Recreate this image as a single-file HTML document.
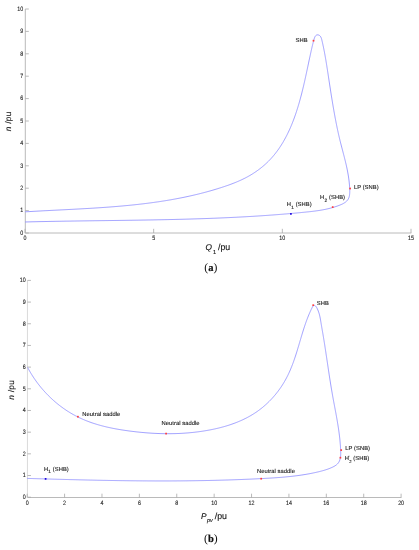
<!DOCTYPE html>
<html><head><meta charset="utf-8"><style>
html,body{margin:0;padding:0;background:#fff;}
body{width:419px;height:550px;overflow:hidden;}
svg{display:block;filter:blur(0.3px);}
text{text-rendering:geometricPrecision;}
text{font-family:"Liberation Sans",Arial,sans-serif;}
.tk{font-size:6.30px;fill:#1e1e1e;stroke:#1e1e1e;stroke-width:0.12px;}
.an{font-size:5.80px;fill:#1a1a1a;stroke:#1a1a1a;stroke-width:0.12px;letter-spacing:0.05px;}
.lb{font-size:8.3px;fill:#111;stroke:#111;stroke-width:0.12px;}
.cap{font-family:"Liberation Serif","Times New Roman",serif;font-size:11.7px;fill:#111;}
</style></head><body>
<svg width="419" height="550" viewBox="0 0 419 550">

<path d="M25.30,9.00 V233.50" fill="none" stroke="#bababa" stroke-width="1"/>
<path d="M25.80,233.00 H411.30" fill="none" stroke="#bababa" stroke-width="1"/>
<path d="M25.00,233.00 V228.80" stroke="#a8a8a8" stroke-width="0.8"/>
<text class="tk" transform="translate(25.00,239.80) scale(0.85,1)" text-anchor="middle">0</text>
<path d="M153.67,233.00 V228.80" stroke="#a8a8a8" stroke-width="0.8"/>
<text class="tk" transform="translate(153.67,239.80) scale(0.85,1)" text-anchor="middle">5</text>
<path d="M282.33,233.00 V228.80" stroke="#a8a8a8" stroke-width="0.8"/>
<text class="tk" transform="translate(282.33,239.80) scale(0.85,1)" text-anchor="middle">10</text>
<path d="M411.00,233.00 V228.80" stroke="#a8a8a8" stroke-width="0.8"/>
<text class="tk" transform="translate(411.00,239.80) scale(0.85,1)" text-anchor="middle">15</text>
<path d="M25.30,233.00 H28.80" stroke="#a8a8a8" stroke-width="0.8"/>
<text class="tk" transform="translate(23.30,234.85) scale(0.85,1)" text-anchor="end">0</text>
<path d="M25.30,210.60 H28.80" stroke="#a8a8a8" stroke-width="0.8"/>
<text class="tk" transform="translate(23.30,212.45) scale(0.85,1)" text-anchor="end">1</text>
<path d="M25.30,188.20 H28.80" stroke="#a8a8a8" stroke-width="0.8"/>
<text class="tk" transform="translate(23.30,190.05) scale(0.85,1)" text-anchor="end">2</text>
<path d="M25.30,165.80 H28.80" stroke="#a8a8a8" stroke-width="0.8"/>
<text class="tk" transform="translate(23.30,167.65) scale(0.85,1)" text-anchor="end">3</text>
<path d="M25.30,143.40 H28.80" stroke="#a8a8a8" stroke-width="0.8"/>
<text class="tk" transform="translate(23.30,145.25) scale(0.85,1)" text-anchor="end">4</text>
<path d="M25.30,121.00 H28.80" stroke="#a8a8a8" stroke-width="0.8"/>
<text class="tk" transform="translate(23.30,122.85) scale(0.85,1)" text-anchor="end">5</text>
<path d="M25.30,98.60 H28.80" stroke="#a8a8a8" stroke-width="0.8"/>
<text class="tk" transform="translate(23.30,100.45) scale(0.85,1)" text-anchor="end">6</text>
<path d="M25.30,76.20 H28.80" stroke="#a8a8a8" stroke-width="0.8"/>
<text class="tk" transform="translate(23.30,78.05) scale(0.85,1)" text-anchor="end">7</text>
<path d="M25.30,53.80 H28.80" stroke="#a8a8a8" stroke-width="0.8"/>
<text class="tk" transform="translate(23.30,55.65) scale(0.85,1)" text-anchor="end">8</text>
<path d="M25.30,31.40 H28.80" stroke="#a8a8a8" stroke-width="0.8"/>
<text class="tk" transform="translate(23.30,33.25) scale(0.85,1)" text-anchor="end">9</text>
<path d="M25.30,9.00 H28.80" stroke="#a8a8a8" stroke-width="0.8"/>
<text class="tk" transform="translate(23.30,10.85) scale(0.85,1)" text-anchor="end">10</text>
<path d="M25.05,211.84 L26.04,211.78 L27.03,211.72 L28.02,211.67 L29.01,211.61 L30.00,211.55 L30.99,211.49 L31.98,211.44 L32.97,211.38 L33.97,211.32 L34.96,211.27 L35.95,211.21 L36.94,211.16 L37.94,211.10 L38.93,211.05 L39.92,211.00 L40.92,210.94 L41.91,210.89 L42.91,210.84 L43.90,210.78 L44.90,210.73 L45.89,210.68 L46.89,210.63 L47.88,210.58 L48.88,210.53 L49.87,210.48 L50.87,210.42 L51.87,210.37 L52.86,210.32 L53.86,210.27 L54.86,210.22 L55.85,210.17 L56.85,210.12 L57.85,210.07 L58.85,210.02 L59.84,209.97 L60.84,209.92 L61.84,209.87 L62.84,209.82 L63.84,209.77 L64.84,209.72 L65.83,209.66 L66.83,209.61 L67.83,209.56 L68.83,209.51 L69.83,209.46 L70.83,209.41 L71.83,209.35 L72.83,209.30 L73.83,209.25 L74.83,209.20 L75.83,209.14 L76.83,209.09 L77.83,209.03 L78.83,208.98 L79.83,208.93 L80.83,208.87 L81.83,208.81 L82.83,208.76 L83.83,208.70 L84.83,208.64 L85.83,208.59 L86.83,208.53 L87.83,208.47 L88.83,208.41 L89.83,208.35 L90.83,208.29 L91.83,208.23 L92.83,208.17 L93.83,208.11 L94.83,208.04 L95.83,207.98 L96.83,207.91 L97.83,207.85 L98.83,207.78 L99.83,207.72 L100.83,207.65 L101.83,207.58 L102.83,207.51 L103.83,207.44 L104.83,207.37 L105.83,207.30 L106.82,207.23 L107.82,207.15 L108.82,207.08 L109.82,207.00 L110.82,206.93 L111.82,206.85 L112.82,206.77 L113.82,206.69 L114.82,206.61 L115.81,206.53 L116.81,206.45 L117.81,206.36 L118.81,206.28 L119.80,206.19 L120.80,206.11 L121.80,206.02 L122.80,205.93 L123.79,205.84 L124.79,205.74 L125.79,205.65 L126.78,205.56 L127.78,205.46 L128.78,205.36 L129.77,205.27 L130.77,205.17 L131.76,205.07 L132.76,204.96 L133.75,204.86 L134.75,204.75 L135.74,204.65 L136.73,204.54 L137.73,204.43 L138.72,204.32 L139.71,204.20 L140.71,204.09 L141.70,203.97 L142.69,203.86 L143.68,203.74 L144.68,203.62 L145.67,203.50 L146.66,203.37 L147.65,203.25 L148.64,203.12 L149.63,202.99 L150.62,202.86 L151.61,202.73 L152.60,202.59 L153.59,202.46 L154.58,202.32 L155.57,202.18 L156.55,202.04 L157.54,201.90 L158.53,201.75 L159.51,201.60 L160.50,201.46 L161.49,201.30 L162.47,201.15 L163.46,201.00 L164.44,200.84 L165.43,200.68 L166.41,200.52 L167.39,200.36 L168.38,200.19 L169.36,200.03 L170.34,199.86 L171.32,199.69 L172.30,199.51 L173.29,199.34 L174.27,199.16 L175.25,198.98 L176.23,198.80 L177.20,198.62 L178.18,198.43 L179.16,198.24 L180.14,198.05 L181.12,197.86 L182.09,197.66 L183.07,197.47 L184.04,197.27 L185.02,197.06 L185.99,196.86 L186.97,196.65 L187.94,196.44 L188.91,196.23 L189.89,196.01 L190.86,195.80 L191.83,195.58 L192.80,195.36 L193.77,195.13 L194.74,194.90 L195.71,194.67 L196.68,194.44 L197.65,194.21 L198.61,193.97 L199.58,193.73 L200.54,193.49 L201.51,193.24 L202.48,192.99 L203.44,192.74 L204.40,192.49 L205.37,192.23 L206.33,191.97 L207.29,191.71 L208.25,191.44 L209.21,191.18 L210.17,190.91 L211.13,190.63 L212.09,190.36 L213.05,190.08 L214.00,189.79 L214.96,189.51 L215.92,189.22 L216.87,188.93 L217.82,188.64 L218.78,188.34 L219.73,188.04 L220.68,187.74 L221.63,187.43 L222.59,187.12 L223.54,186.81 L224.48,186.49 L225.43,186.17 L226.38,185.85 L227.32,185.52 L228.27,185.19 L229.21,184.85 L230.15,184.51 L231.09,184.16 L232.02,183.81 L232.96,183.45 L233.89,183.09 L234.82,182.72 L235.74,182.34 L236.67,181.96 L237.59,181.57 L238.51,181.18 L239.42,180.77 L240.33,180.36 L241.24,179.95 L242.15,179.52 L243.05,179.09 L243.95,178.65 L244.84,178.20 L245.73,177.75 L246.62,177.28 L247.50,176.81 L248.38,176.32 L249.25,175.83 L250.12,175.33 L250.98,174.82 L251.84,174.30 L252.69,173.77 L253.54,173.23 L254.38,172.68 L255.21,172.12 L256.04,171.55 L256.87,170.98 L257.69,170.39 L258.50,169.80 L259.30,169.20 L260.10,168.59 L260.89,167.97 L261.67,167.34 L262.45,166.71 L263.22,166.06 L263.98,165.41 L264.73,164.75 L265.48,164.08 L266.21,163.40 L266.94,162.72 L267.66,162.03 L268.37,161.33 L269.07,160.62 L269.76,159.90 L270.45,159.18 L271.12,158.45 L271.78,157.71 L272.44,156.97 L273.09,156.22 L273.73,155.46 L274.36,154.70 L274.98,153.93 L275.59,153.15 L276.20,152.36 L276.80,151.57 L277.39,150.78 L277.97,149.97 L278.54,149.16 L279.11,148.35 L279.66,147.53 L280.21,146.70 L280.75,145.87 L281.29,145.04 L281.82,144.19 L282.34,143.35 L282.85,142.50 L283.35,141.64 L283.85,140.78 L284.34,139.91 L284.83,139.04 L285.31,138.16 L285.78,137.28 L286.24,136.40 L286.70,135.51 L287.15,134.62 L287.59,133.73 L288.03,132.83 L288.46,131.92 L288.89,131.02 L289.31,130.11 L289.72,129.19 L290.13,128.27 L290.53,127.36 L290.93,126.43 L291.32,125.51 L291.70,124.58 L292.08,123.65 L292.45,122.71 L292.82,121.78 L293.19,120.84 L293.54,119.90 L293.90,118.96 L294.24,118.01 L294.59,117.07 L294.92,116.12 L295.26,115.17 L295.59,114.22 L295.91,113.27 L296.23,112.31 L296.54,111.36 L296.85,110.40 L297.16,109.45 L297.46,108.49 L297.76,107.53 L298.05,106.57 L298.34,105.61 L298.63,104.65 L298.91,103.69 L299.19,102.73 L299.47,101.77 L299.74,100.80 L300.01,99.84 L300.27,98.87 L300.53,97.91 L300.79,96.94 L301.05,95.97 L301.30,95.01 L301.55,94.04 L301.80,93.07 L302.04,92.10 L302.28,91.13 L302.52,90.16 L302.76,89.19 L302.99,88.22 L303.23,87.25 L303.46,86.28 L303.69,85.31 L303.91,84.34 L304.14,83.37 L304.36,82.40 L304.58,81.43 L304.80,80.45 L305.02,79.48 L305.23,78.51 L305.45,77.54 L305.66,76.56 L305.87,75.59 L306.09,74.62 L306.30,73.65 L306.51,72.68 L306.71,71.70 L306.92,70.73 L307.13,69.76 L307.34,68.79 L307.54,67.82 L307.75,66.85 L307.95,65.88 L308.16,64.91 L308.37,63.94 L308.57,62.97 L308.78,62.00 L308.98,61.03 L309.19,60.06 L309.39,59.09 L309.60,58.13 L309.81,57.16 L310.02,56.19 L310.22,55.23 L310.43,54.26 L310.64,53.30 L310.86,52.33 L311.07,51.37 L311.28,50.40 L311.50,49.44 L311.72,48.46 L311.95,47.48 L312.18,46.49 L312.42,45.50 L312.67,44.49 L312.92,43.47 L313.19,42.43 L313.46,41.38 L313.75,40.32 L314.05,39.24 L314.38,38.20 L314.75,37.23 L315.20,36.37 L315.72,35.66 L316.35,35.15 L317.08,34.88 L317.92,34.86 L318.76,35.07 L319.54,35.49 L320.18,36.07 L320.70,36.81 L321.12,37.65 L321.46,38.59 L321.74,39.59 L321.99,40.61 L322.23,41.65 L322.46,42.67 L322.69,43.69 L322.92,44.71 L323.13,45.73 L323.35,46.74 L323.56,47.74 L323.76,48.75 L323.96,49.75 L324.16,50.74 L324.35,51.74 L324.54,52.73 L324.72,53.72 L324.90,54.70 L325.08,55.69 L325.25,56.67 L325.43,57.65 L325.60,58.63 L325.76,59.61 L325.93,60.58 L326.09,61.56 L326.25,62.53 L326.41,63.50 L326.56,64.48 L326.72,65.45 L326.87,66.42 L327.03,67.40 L327.18,68.37 L327.33,69.34 L327.48,70.32 L327.63,71.29 L327.78,72.27 L327.93,73.24 L328.08,74.22 L328.23,75.20 L328.37,76.18 L328.52,77.16 L328.67,78.14 L328.82,79.12 L328.97,80.11 L329.12,81.09 L329.27,82.07 L329.42,83.06 L329.57,84.05 L329.72,85.03 L329.87,86.02 L330.03,87.01 L330.18,88.00 L330.33,88.99 L330.48,89.98 L330.64,90.97 L330.79,91.96 L330.95,92.95 L331.10,93.94 L331.26,94.93 L331.42,95.92 L331.57,96.91 L331.73,97.91 L331.89,98.90 L332.05,99.89 L332.22,100.88 L332.38,101.88 L332.54,102.87 L332.71,103.86 L332.87,104.85 L333.04,105.85 L333.21,106.84 L333.38,107.83 L333.55,108.82 L333.72,109.82 L333.90,110.81 L334.07,111.80 L334.25,112.79 L334.43,113.78 L334.61,114.77 L334.79,115.76 L334.97,116.75 L335.15,117.74 L335.34,118.72 L335.53,119.71 L335.72,120.70 L335.91,121.68 L336.10,122.67 L336.30,123.65 L336.50,124.64 L336.70,125.62 L336.90,126.60 L337.10,127.58 L337.31,128.56 L337.52,129.54 L337.73,130.52 L337.94,131.50 L338.15,132.48 L338.37,133.45 L338.59,134.42 L338.81,135.40 L339.03,136.37 L339.26,137.34 L339.49,138.31 L339.72,139.28 L339.95,140.24 L340.19,141.21 L340.43,142.17 L340.67,143.13 L340.92,144.09 L341.16,145.05 L341.41,146.01 L341.66,146.97 L341.91,147.93 L342.16,148.89 L342.41,149.84 L342.66,150.80 L342.91,151.75 L343.16,152.71 L343.41,153.67 L343.66,154.62 L343.91,155.58 L344.16,156.54 L344.40,157.50 L344.64,158.45 L344.89,159.41 L345.12,160.37 L345.36,161.34 L345.59,162.30 L345.82,163.26 L346.05,164.23 L346.27,165.20 L346.49,166.17 L346.70,167.14 L346.91,168.11 L347.11,169.08 L347.31,170.06 L347.50,171.04 L347.69,172.02 L347.87,173.01 L348.04,174.00 L348.21,174.99 L348.37,175.98 L348.53,176.98 L348.67,177.98 L348.81,178.98 L348.94,179.99 L349.07,181.00 L349.18,182.02 L349.28,183.03 L349.38,184.06 L349.47,185.08 L349.54,186.11 L349.61,187.15 L349.67,188.19 L349.72,189.24 L349.75,190.28 L349.76,191.33 L349.75,192.36 L349.70,193.39 L349.61,194.39 L349.48,195.37 L349.29,196.31 L349.04,197.23 L348.72,198.10 L348.33,198.92 L347.86,199.69 L347.30,200.42 L346.68,201.09 L345.99,201.71 L345.24,202.30 L344.44,202.84 L343.59,203.35 L342.71,203.83 L341.79,204.27 L340.85,204.69 L339.89,205.09 L338.92,205.47 L337.94,205.83 L336.96,206.18 L335.99,206.51 L335.01,206.83 L334.03,207.14 L333.05,207.43 L332.07,207.72 L331.09,207.99 L330.11,208.24 L329.13,208.49 L328.14,208.73 L327.16,208.95 L326.18,209.17 L325.19,209.38 L324.21,209.57 L323.22,209.76 L322.24,209.94 L321.25,210.12 L320.26,210.28 L319.28,210.44 L318.29,210.59 L317.30,210.73 L316.31,210.87 L315.32,211.01 L314.33,211.13 L313.34,211.26 L312.36,211.38 L311.37,211.49 L310.38,211.61 L309.39,211.71 L308.40,211.82 L307.40,211.92 L306.41,212.03 L305.42,212.13 L304.43,212.23 L303.44,212.33 L302.45,212.42 L301.46,212.52 L300.47,212.62 L299.48,212.71 L298.48,212.81 L297.49,212.90 L296.50,212.99 L295.51,213.09 L294.52,213.18 L293.52,213.27 L292.53,213.36 L291.54,213.45 L290.55,213.53 L289.55,213.62 L288.56,213.71 L287.57,213.79 L286.57,213.88 L285.58,213.96 L284.59,214.04 L283.60,214.13 L282.60,214.21 L281.61,214.29 L280.62,214.37 L279.62,214.45 L278.63,214.53 L277.63,214.61 L276.64,214.68 L275.65,214.76 L274.65,214.84 L273.66,214.91 L272.66,214.99 L271.67,215.06 L270.67,215.13 L269.68,215.20 L268.69,215.28 L267.69,215.35 L266.70,215.42 L265.70,215.49 L264.71,215.55 L263.71,215.62 L262.72,215.69 L261.72,215.76 L260.72,215.82 L259.73,215.89 L258.73,215.95 L257.74,216.02 L256.74,216.08 L255.75,216.14 L254.75,216.21 L253.76,216.27 L252.76,216.33 L251.76,216.39 L250.77,216.45 L249.77,216.51 L248.77,216.56 L247.78,216.62 L246.78,216.68 L245.79,216.74 L244.79,216.79 L243.79,216.85 L242.80,216.90 L241.80,216.95 L240.80,217.01 L239.80,217.06 L238.81,217.11 L237.81,217.16 L236.81,217.22 L235.82,217.27 L234.82,217.32 L233.82,217.37 L232.82,217.42 L231.83,217.46 L230.83,217.51 L229.83,217.56 L228.83,217.61 L227.84,217.65 L226.84,217.70 L225.84,217.74 L224.84,217.79 L223.84,217.83 L222.85,217.87 L221.85,217.92 L220.85,217.96 L219.85,218.00 L218.85,218.04 L217.86,218.08 L216.86,218.13 L215.86,218.17 L214.86,218.21 L213.86,218.24 L212.86,218.28 L211.86,218.32 L210.87,218.36 L209.87,218.40 L208.87,218.43 L207.87,218.47 L206.87,218.51 L205.87,218.54 L204.87,218.58 L203.87,218.61 L202.88,218.65 L201.88,218.68 L200.88,218.71 L199.88,218.75 L198.88,218.78 L197.88,218.81 L196.88,218.84 L195.88,218.87 L194.88,218.90 L193.88,218.93 L192.88,218.96 L191.88,218.99 L190.88,219.02 L189.88,219.05 L188.88,219.08 L187.89,219.11 L186.89,219.14 L185.89,219.17 L184.89,219.19 L183.89,219.22 L182.89,219.25 L181.89,219.27 L180.89,219.30 L179.89,219.32 L178.89,219.35 L177.89,219.37 L176.89,219.40 L175.89,219.42 L174.89,219.45 L173.89,219.47 L172.89,219.49 L171.89,219.52 L170.89,219.54 L169.89,219.56 L168.89,219.59 L167.89,219.61 L166.89,219.63 L165.89,219.65 L164.89,219.67 L163.89,219.69 L162.89,219.71 L161.89,219.73 L160.89,219.75 L159.89,219.77 L158.89,219.79 L157.89,219.81 L156.89,219.83 L155.89,219.85 L154.89,219.87 L153.89,219.89 L152.88,219.91 L151.88,219.92 L150.88,219.94 L149.88,219.96 L148.88,219.98 L147.88,219.99 L146.88,220.01 L145.88,220.03 L144.88,220.05 L143.88,220.06 L142.88,220.08 L141.88,220.09 L140.88,220.11 L139.88,220.13 L138.88,220.14 L137.88,220.16 L136.88,220.17 L135.88,220.19 L134.88,220.20 L133.88,220.22 L132.88,220.23 L131.88,220.25 L130.88,220.26 L129.88,220.28 L128.88,220.29 L127.88,220.31 L126.88,220.32 L125.88,220.33 L124.88,220.35 L123.88,220.36 L122.88,220.38 L121.88,220.39 L120.88,220.40 L119.87,220.42 L118.87,220.43 L117.87,220.44 L116.87,220.46 L115.87,220.47 L114.87,220.48 L113.87,220.50 L112.87,220.51 L111.87,220.52 L110.87,220.54 L109.87,220.55 L108.87,220.56 L107.87,220.58 L106.87,220.59 L105.87,220.60 L104.87,220.61 L103.87,220.63 L102.87,220.64 L101.87,220.65 L100.88,220.67 L99.88,220.68 L98.88,220.69 L97.88,220.70 L96.88,220.72 L95.88,220.73 L94.88,220.74 L93.88,220.76 L92.88,220.77 L91.88,220.78 L90.88,220.80 L89.88,220.81 L88.88,220.82 L87.88,220.84 L86.88,220.85 L85.88,220.86 L84.88,220.88 L83.88,220.89 L82.88,220.90 L81.89,220.92 L80.89,220.93 L79.89,220.95 L78.89,220.96 L77.89,220.97 L76.89,220.99 L75.89,221.00 L74.89,221.02 L73.89,221.03 L72.90,221.05 L71.90,221.06 L70.90,221.08 L69.90,221.09 L68.90,221.11 L67.90,221.12 L66.90,221.14 L65.91,221.15 L64.91,221.17 L63.91,221.19 L62.91,221.20 L61.91,221.22 L60.91,221.24 L59.92,221.25 L58.92,221.27 L57.92,221.29 L56.92,221.30 L55.92,221.32 L54.93,221.34 L53.93,221.36 L52.93,221.38 L51.93,221.39 L50.94,221.41 L49.94,221.43 L48.94,221.45 L47.94,221.47 L46.95,221.49 L45.95,221.51 L44.95,221.53 L43.96,221.55 L42.96,221.57 L41.96,221.59 L40.97,221.61 L39.97,221.63 L38.97,221.65 L37.98,221.68 L36.98,221.70 L35.98,221.72 L34.99,221.74 L33.99,221.77 L32.99,221.79 L32.00,221.81 L31.00,221.84 L30.00,221.86 L29.01,221.88 L28.01,221.91 L27.02,221.93 L26.02,221.96 L25.03,221.99" fill="none" stroke="#9494ff" stroke-width="0.90"/>
<path d="M27.45,280.40 V498.00" fill="none" stroke="#dadada" stroke-width="1"/>
<path d="M27.95,497.50 H401.40" fill="none" stroke="#bababa" stroke-width="1"/>
<path d="M27.20,497.50 V493.70" stroke="#a8a8a8" stroke-width="0.8"/>
<text class="tk" transform="translate(27.20,504.80) scale(0.85,1)" text-anchor="middle">0</text>
<path d="M64.59,497.50 V493.70" stroke="#a8a8a8" stroke-width="0.8"/>
<text class="tk" transform="translate(64.59,504.80) scale(0.85,1)" text-anchor="middle">2</text>
<path d="M101.98,497.50 V493.70" stroke="#a8a8a8" stroke-width="0.8"/>
<text class="tk" transform="translate(101.98,504.80) scale(0.85,1)" text-anchor="middle">4</text>
<path d="M139.37,497.50 V493.70" stroke="#a8a8a8" stroke-width="0.8"/>
<text class="tk" transform="translate(139.37,504.80) scale(0.85,1)" text-anchor="middle">6</text>
<path d="M176.76,497.50 V493.70" stroke="#a8a8a8" stroke-width="0.8"/>
<text class="tk" transform="translate(176.76,504.80) scale(0.85,1)" text-anchor="middle">8</text>
<path d="M214.15,497.50 V493.70" stroke="#a8a8a8" stroke-width="0.8"/>
<text class="tk" transform="translate(214.15,504.80) scale(0.85,1)" text-anchor="middle">10</text>
<path d="M251.54,497.50 V493.70" stroke="#a8a8a8" stroke-width="0.8"/>
<text class="tk" transform="translate(251.54,504.80) scale(0.85,1)" text-anchor="middle">12</text>
<path d="M288.93,497.50 V493.70" stroke="#a8a8a8" stroke-width="0.8"/>
<text class="tk" transform="translate(288.93,504.80) scale(0.85,1)" text-anchor="middle">14</text>
<path d="M326.32,497.50 V493.70" stroke="#a8a8a8" stroke-width="0.8"/>
<text class="tk" transform="translate(326.32,504.80) scale(0.85,1)" text-anchor="middle">16</text>
<path d="M363.71,497.50 V493.70" stroke="#a8a8a8" stroke-width="0.8"/>
<text class="tk" transform="translate(363.71,504.80) scale(0.85,1)" text-anchor="middle">18</text>
<path d="M401.10,497.50 V493.70" stroke="#a8a8a8" stroke-width="0.8"/>
<text class="tk" transform="translate(401.10,504.80) scale(0.85,1)" text-anchor="middle">20</text>
<path d="M27.45,497.20 H30.95" stroke="#a8a8a8" stroke-width="0.8"/>
<text class="tk" transform="translate(25.80,499.05) scale(0.85,1)" text-anchor="end">0</text>
<path d="M27.45,475.52 H30.95" stroke="#a8a8a8" stroke-width="0.8"/>
<text class="tk" transform="translate(25.80,477.37) scale(0.85,1)" text-anchor="end">1</text>
<path d="M27.45,453.84 H30.95" stroke="#a8a8a8" stroke-width="0.8"/>
<text class="tk" transform="translate(25.80,455.69) scale(0.85,1)" text-anchor="end">2</text>
<path d="M27.45,432.16 H30.95" stroke="#a8a8a8" stroke-width="0.8"/>
<text class="tk" transform="translate(25.80,434.01) scale(0.85,1)" text-anchor="end">3</text>
<path d="M27.45,410.48 H30.95" stroke="#a8a8a8" stroke-width="0.8"/>
<text class="tk" transform="translate(25.80,412.33) scale(0.85,1)" text-anchor="end">4</text>
<path d="M27.45,388.80 H30.95" stroke="#a8a8a8" stroke-width="0.8"/>
<text class="tk" transform="translate(25.80,390.65) scale(0.85,1)" text-anchor="end">5</text>
<path d="M27.45,367.12 H30.95" stroke="#a8a8a8" stroke-width="0.8"/>
<text class="tk" transform="translate(25.80,368.97) scale(0.85,1)" text-anchor="end">6</text>
<path d="M27.45,345.44 H30.95" stroke="#a8a8a8" stroke-width="0.8"/>
<text class="tk" transform="translate(25.80,347.29) scale(0.85,1)" text-anchor="end">7</text>
<path d="M27.45,323.76 H30.95" stroke="#a8a8a8" stroke-width="0.8"/>
<text class="tk" transform="translate(25.80,325.61) scale(0.85,1)" text-anchor="end">8</text>
<path d="M27.45,302.08 H30.95" stroke="#a8a8a8" stroke-width="0.8"/>
<text class="tk" transform="translate(25.80,303.93) scale(0.85,1)" text-anchor="end">9</text>
<path d="M27.45,280.40 H30.95" stroke="#a8a8a8" stroke-width="0.8"/>
<text class="tk" transform="translate(25.80,282.25) scale(0.85,1)" text-anchor="end">10</text>
<path d="M27.63,367.48 L28.10,368.36 L28.58,369.23 L29.06,370.10 L29.56,370.97 L30.06,371.83 L30.56,372.69 L31.08,373.54 L31.60,374.39 L32.13,375.24 L32.67,376.08 L33.21,376.92 L33.76,377.75 L34.32,378.58 L34.89,379.41 L35.46,380.23 L36.04,381.04 L36.63,381.85 L37.22,382.66 L37.82,383.46 L38.43,384.25 L39.05,385.05 L39.67,385.83 L40.30,386.61 L40.93,387.39 L41.57,388.16 L42.22,388.92 L42.88,389.68 L43.54,390.44 L44.21,391.18 L44.88,391.93 L45.56,392.66 L46.25,393.40 L46.94,394.12 L47.64,394.84 L48.34,395.55 L49.05,396.26 L49.77,396.96 L50.49,397.66 L51.22,398.35 L51.95,399.03 L52.69,399.71 L53.44,400.38 L54.19,401.04 L54.94,401.70 L55.70,402.35 L56.47,402.99 L57.24,403.63 L58.02,404.25 L58.81,404.88 L59.59,405.49 L60.39,406.10 L61.19,406.70 L61.99,407.30 L62.80,407.88 L63.61,408.46 L64.43,409.03 L65.25,409.60 L66.08,410.16 L66.92,410.70 L67.75,411.25 L68.60,411.78 L69.44,412.31 L70.29,412.82 L71.15,413.33 L72.01,413.83 L72.88,414.33 L73.74,414.81 L74.62,415.29 L75.50,415.76 L76.38,416.22 L77.26,416.67 L78.15,417.12 L79.05,417.55 L79.94,417.98 L80.85,418.39 L81.75,418.80 L82.66,419.21 L83.57,419.60 L84.49,419.98 L85.41,420.36 L86.33,420.73 L87.26,421.09 L88.19,421.45 L89.12,421.80 L90.05,422.14 L90.99,422.47 L91.93,422.80 L92.88,423.12 L93.82,423.43 L94.77,423.73 L95.73,424.03 L96.68,424.32 L97.64,424.61 L98.60,424.89 L99.56,425.16 L100.53,425.43 L101.49,425.69 L102.46,425.94 L103.43,426.19 L104.40,426.44 L105.38,426.67 L106.35,426.91 L107.33,427.13 L108.31,427.35 L109.29,427.57 L110.28,427.78 L111.26,427.99 L112.25,428.19 L113.23,428.39 L114.22,428.58 L115.21,428.77 L116.20,428.95 L117.19,429.13 L118.18,429.30 L119.18,429.47 L120.17,429.64 L121.17,429.80 L122.16,429.96 L123.16,430.11 L124.15,430.26 L125.15,430.41 L126.14,430.55 L127.14,430.70 L128.14,430.83 L129.14,430.97 L130.13,431.10 L131.13,431.23 L132.13,431.35 L133.12,431.48 L134.12,431.59 L135.12,431.71 L136.11,431.83 L137.11,431.94 L138.11,432.04 L139.10,432.15 L140.10,432.25 L141.10,432.35 L142.09,432.44 L143.09,432.53 L144.09,432.62 L145.08,432.71 L146.08,432.79 L147.07,432.87 L148.07,432.94 L149.07,433.01 L150.06,433.08 L151.06,433.15 L152.05,433.21 L153.05,433.27 L154.05,433.32 L155.04,433.37 L156.04,433.42 L157.03,433.46 L158.03,433.51 L159.02,433.54 L160.02,433.58 L161.01,433.60 L162.01,433.63 L163.00,433.65 L164.00,433.67 L164.99,433.68 L165.99,433.69 L166.98,433.70 L167.98,433.70 L168.97,433.70 L169.97,433.70 L170.96,433.69 L171.96,433.68 L172.95,433.66 L173.94,433.64 L174.94,433.61 L175.93,433.58 L176.93,433.55 L177.92,433.51 L178.91,433.47 L179.91,433.43 L180.90,433.38 L181.90,433.32 L182.89,433.26 L183.88,433.20 L184.88,433.13 L185.87,433.06 L186.86,432.99 L187.86,432.91 L188.85,432.82 L189.84,432.73 L190.84,432.64 L191.83,432.54 L192.82,432.44 L193.81,432.33 L194.81,432.22 L195.80,432.10 L196.79,431.98 L197.78,431.86 L198.78,431.73 L199.77,431.59 L200.76,431.45 L201.75,431.31 L202.75,431.16 L203.74,431.00 L204.73,430.85 L205.72,430.68 L206.71,430.51 L207.71,430.34 L208.70,430.16 L209.69,429.97 L210.68,429.79 L211.67,429.59 L212.65,429.39 L213.64,429.18 L214.63,428.97 L215.61,428.75 L216.59,428.53 L217.58,428.30 L218.56,428.07 L219.54,427.82 L220.51,427.58 L221.49,427.32 L222.46,427.06 L223.43,426.80 L224.40,426.52 L225.37,426.24 L226.33,425.96 L227.29,425.66 L228.25,425.36 L229.21,425.06 L230.16,424.74 L231.12,424.42 L232.06,424.09 L233.01,423.76 L233.95,423.42 L234.89,423.07 L235.82,422.71 L236.75,422.34 L237.68,421.97 L238.60,421.59 L239.52,421.20 L240.44,420.81 L241.35,420.40 L242.26,419.99 L243.16,419.57 L244.06,419.14 L244.95,418.70 L245.84,418.26 L246.73,417.80 L247.61,417.34 L248.48,416.87 L249.35,416.39 L250.22,415.90 L251.08,415.40 L251.93,414.89 L252.78,414.38 L253.62,413.85 L254.46,413.32 L255.29,412.77 L256.12,412.22 L256.94,411.66 L257.75,411.09 L258.56,410.50 L259.36,409.91 L260.15,409.31 L260.94,408.70 L261.72,408.08 L262.50,407.46 L263.27,406.82 L264.03,406.17 L264.78,405.52 L265.53,404.86 L266.27,404.19 L267.01,403.51 L267.73,402.82 L268.45,402.13 L269.17,401.43 L269.87,400.72 L270.57,400.00 L271.26,399.27 L271.94,398.54 L272.62,397.80 L273.29,397.05 L273.95,396.30 L274.60,395.53 L275.25,394.77 L275.88,393.99 L276.51,393.21 L277.13,392.42 L277.75,391.63 L278.35,390.83 L278.95,390.02 L279.53,389.21 L280.11,388.39 L280.69,387.56 L281.25,386.73 L281.80,385.90 L282.35,385.06 L282.88,384.21 L283.41,383.36 L283.93,382.50 L284.44,381.64 L284.94,380.77 L285.43,379.90 L285.92,379.03 L286.39,378.15 L286.85,377.26 L287.31,376.37 L287.76,375.48 L288.19,374.58 L288.62,373.68 L289.04,372.78 L289.45,371.87 L289.86,370.96 L290.26,370.04 L290.65,369.12 L291.03,368.20 L291.41,367.27 L291.78,366.34 L292.14,365.41 L292.50,364.48 L292.85,363.54 L293.20,362.60 L293.54,361.66 L293.87,360.72 L294.20,359.77 L294.53,358.83 L294.85,357.88 L295.17,356.93 L295.49,355.97 L295.80,355.02 L296.10,354.06 L296.41,353.10 L296.71,352.15 L297.01,351.19 L297.30,350.23 L297.60,349.26 L297.89,348.30 L298.18,347.34 L298.47,346.38 L298.75,345.41 L299.04,344.45 L299.32,343.48 L299.61,342.52 L299.89,341.56 L300.18,340.59 L300.46,339.63 L300.75,338.67 L301.03,337.70 L301.32,336.74 L301.61,335.78 L301.90,334.82 L302.19,333.86 L302.48,332.90 L302.78,331.95 L303.07,330.99 L303.37,330.04 L303.68,329.09 L303.98,328.14 L304.29,327.19 L304.60,326.24 L304.92,325.30 L305.24,324.36 L305.57,323.42 L305.89,322.48 L306.23,321.54 L306.57,320.61 L306.91,319.68 L307.26,318.76 L307.62,317.83 L307.98,316.91 L308.35,316.00 L308.72,315.09 L309.10,314.18 L309.49,313.27 L309.88,312.37 L310.29,311.47 L310.70,310.57 L311.11,309.68 L311.54,308.80 L311.97,307.92 L312.42,307.04 L312.88,306.23 L313.40,305.62 L313.99,305.31 L314.69,305.42 L315.45,305.96 L316.18,306.79 L316.82,307.79 L317.37,308.88 L317.86,309.99 L318.28,311.08 L318.66,312.14 L319.00,313.17 L319.30,314.17 L319.56,315.15 L319.79,316.12 L320.00,317.07 L320.18,318.02 L320.36,318.96 L320.52,319.89 L320.68,320.83 L320.83,321.77 L320.99,322.71 L321.15,323.67 L321.31,324.63 L321.48,325.59 L321.64,326.56 L321.81,327.53 L321.98,328.51 L322.15,329.49 L322.31,330.47 L322.48,331.46 L322.65,332.45 L322.82,333.44 L322.99,334.44 L323.16,335.43 L323.32,336.42 L323.49,337.42 L323.65,338.41 L323.81,339.41 L323.98,340.40 L324.14,341.40 L324.29,342.39 L324.45,343.39 L324.61,344.38 L324.77,345.38 L324.92,346.37 L325.07,347.36 L325.23,348.36 L325.38,349.35 L325.53,350.34 L325.68,351.34 L325.83,352.33 L325.98,353.32 L326.13,354.32 L326.28,355.31 L326.43,356.30 L326.58,357.29 L326.73,358.29 L326.87,359.28 L327.02,360.27 L327.17,361.26 L327.32,362.25 L327.46,363.24 L327.61,364.23 L327.76,365.22 L327.90,366.21 L328.05,367.20 L328.20,368.19 L328.35,369.18 L328.49,370.17 L328.64,371.16 L328.79,372.15 L328.94,373.14 L329.09,374.13 L329.24,375.11 L329.39,376.10 L329.54,377.09 L329.70,378.08 L329.85,379.06 L330.01,380.05 L330.16,381.04 L330.32,382.02 L330.47,383.01 L330.63,383.99 L330.79,384.98 L330.95,385.96 L331.11,386.94 L331.28,387.93 L331.44,388.91 L331.61,389.89 L331.77,390.88 L331.94,391.86 L332.11,392.84 L332.28,393.82 L332.46,394.80 L332.63,395.78 L332.81,396.76 L332.98,397.74 L333.16,398.72 L333.34,399.70 L333.53,400.68 L333.71,401.66 L333.89,402.64 L334.07,403.62 L334.26,404.59 L334.44,405.57 L334.63,406.55 L334.81,407.53 L334.99,408.51 L335.18,409.49 L335.36,410.47 L335.54,411.45 L335.73,412.43 L335.91,413.41 L336.09,414.39 L336.27,415.37 L336.44,416.35 L336.62,417.33 L336.79,418.31 L336.97,419.30 L337.14,420.28 L337.31,421.26 L337.47,422.25 L337.64,423.24 L337.80,424.22 L337.96,425.21 L338.11,426.20 L338.27,427.19 L338.42,428.18 L338.57,429.17 L338.71,430.16 L338.85,431.16 L338.99,432.15 L339.12,433.15 L339.25,434.14 L339.37,435.14 L339.49,436.14 L339.61,437.14 L339.72,438.14 L339.83,439.15 L339.93,440.15 L340.02,441.16 L340.12,442.17 L340.20,443.18 L340.28,444.19 L340.36,445.20 L340.43,446.22 L340.49,447.24 L340.55,448.26 L340.60,449.28 L340.65,450.30 L340.69,451.32 L340.71,452.34 L340.72,453.36 L340.70,454.37 L340.66,455.37 L340.58,456.35 L340.46,457.31 L340.29,458.26 L340.07,459.18 L339.80,460.07 L339.46,460.93 L339.06,461.75 L338.58,462.54 L338.03,463.28 L337.38,463.99 L336.66,464.64 L335.87,465.26 L335.01,465.83 L334.10,466.37 L333.16,466.87 L332.18,467.34 L331.19,467.78 L330.20,468.20 L329.20,468.59 L328.22,468.96 L327.24,469.31 L326.26,469.64 L325.29,469.95 L324.33,470.25 L323.36,470.53 L322.40,470.80 L321.44,471.06 L320.48,471.31 L319.52,471.55 L318.56,471.79 L317.60,472.01 L316.63,472.24 L315.67,472.45 L314.70,472.67 L313.73,472.87 L312.77,473.07 L311.80,473.27 L310.82,473.46 L309.85,473.65 L308.88,473.83 L307.90,474.01 L306.93,474.18 L305.95,474.35 L304.97,474.51 L303.99,474.67 L303.01,474.83 L302.03,474.98 L301.05,475.12 L300.07,475.27 L299.08,475.41 L298.10,475.54 L297.11,475.67 L296.12,475.80 L295.14,475.92 L294.15,476.04 L293.16,476.16 L292.17,476.28 L291.18,476.39 L290.19,476.49 L289.19,476.60 L288.20,476.70 L287.21,476.80 L286.21,476.89 L285.22,476.99 L284.22,477.08 L283.23,477.16 L282.23,477.25 L281.23,477.33 L280.24,477.41 L279.24,477.49 L278.24,477.56 L277.24,477.64 L276.24,477.71 L275.24,477.78 L274.25,477.85 L273.25,477.91 L272.25,477.98 L271.24,478.04 L270.24,478.10 L269.24,478.16 L268.24,478.22 L267.24,478.28 L266.24,478.34 L265.24,478.39 L264.24,478.44 L263.24,478.50 L262.24,478.55 L261.23,478.60 L260.23,478.65 L259.23,478.70 L258.23,478.75 L257.23,478.80 L256.23,478.85 L255.23,478.90 L254.23,478.95 L253.22,478.99 L252.22,479.04 L251.22,479.09 L250.22,479.13 L249.22,479.18 L248.22,479.22 L247.22,479.26 L246.22,479.30 L245.22,479.35 L244.22,479.39 L243.22,479.43 L242.21,479.47 L241.21,479.51 L240.21,479.55 L239.21,479.58 L238.21,479.62 L237.21,479.66 L236.21,479.70 L235.21,479.73 L234.21,479.77 L233.21,479.80 L232.21,479.84 L231.21,479.87 L230.21,479.90 L229.21,479.93 L228.21,479.97 L227.21,480.00 L226.21,480.03 L225.21,480.06 L224.21,480.09 L223.21,480.12 L222.21,480.15 L221.21,480.17 L220.21,480.20 L219.21,480.23 L218.21,480.25 L217.21,480.28 L216.21,480.31 L215.21,480.33 L214.21,480.35 L213.21,480.38 L212.21,480.40 L211.21,480.42 L210.21,480.45 L209.21,480.47 L208.21,480.49 L207.21,480.51 L206.21,480.53 L205.21,480.55 L204.21,480.57 L203.21,480.59 L202.21,480.60 L201.21,480.62 L200.21,480.64 L199.21,480.65 L198.21,480.67 L197.21,480.69 L196.21,480.70 L195.21,480.72 L194.21,480.73 L193.21,480.74 L192.21,480.76 L191.21,480.77 L190.21,480.78 L189.21,480.79 L188.21,480.81 L187.21,480.82 L186.21,480.83 L185.21,480.84 L184.21,480.85 L183.22,480.85 L182.22,480.86 L181.22,480.87 L180.22,480.88 L179.22,480.89 L178.22,480.89 L177.22,480.90 L176.22,480.91 L175.22,480.91 L174.22,480.92 L173.22,480.92 L172.22,480.93 L171.22,480.93 L170.22,480.93 L169.22,480.94 L168.23,480.94 L167.23,480.94 L166.23,480.94 L165.23,480.94 L164.23,480.94 L163.23,480.94 L162.23,480.95 L161.23,480.94 L160.23,480.94 L159.23,480.94 L158.23,480.94 L157.23,480.94 L156.23,480.94 L155.24,480.94 L154.24,480.93 L153.24,480.93 L152.24,480.93 L151.24,480.92 L150.24,480.92 L149.24,480.91 L148.24,480.91 L147.24,480.90 L146.24,480.90 L145.24,480.89 L144.24,480.88 L143.25,480.88 L142.25,480.87 L141.25,480.86 L140.25,480.85 L139.25,480.85 L138.25,480.84 L137.25,480.83 L136.25,480.82 L135.25,480.81 L134.25,480.80 L133.25,480.79 L132.26,480.78 L131.26,480.77 L130.26,480.76 L129.26,480.74 L128.26,480.73 L127.26,480.72 L126.26,480.71 L125.26,480.70 L124.26,480.68 L123.26,480.67 L122.26,480.66 L121.26,480.64 L120.27,480.63 L119.27,480.61 L118.27,480.60 L117.27,480.58 L116.27,480.57 L115.27,480.55 L114.27,480.54 L113.27,480.52 L112.27,480.50 L111.27,480.49 L110.27,480.47 L109.27,480.45 L108.27,480.44 L107.28,480.42 L106.28,480.40 L105.28,480.38 L104.28,480.36 L103.28,480.35 L102.28,480.33 L101.28,480.31 L100.28,480.29 L99.28,480.27 L98.28,480.25 L97.28,480.23 L96.28,480.21 L95.28,480.19 L94.28,480.17 L93.28,480.15 L92.29,480.12 L91.29,480.10 L90.29,480.08 L89.29,480.06 L88.29,480.04 L87.29,480.02 L86.29,479.99 L85.29,479.97 L84.29,479.95 L83.29,479.92 L82.29,479.90 L81.29,479.88 L80.29,479.85 L79.29,479.83 L78.29,479.81 L77.29,479.78 L76.29,479.76 L75.29,479.73 L74.29,479.71 L73.29,479.68 L72.29,479.66 L71.29,479.63 L70.29,479.61 L69.29,479.58 L68.29,479.56 L67.30,479.53 L66.30,479.51 L65.30,479.48 L64.30,479.45 L63.30,479.43 L62.30,479.40 L61.30,479.37 L60.30,479.35 L59.30,479.32 L58.30,479.29 L57.30,479.27 L56.30,479.24 L55.30,479.21 L54.30,479.18 L53.30,479.16 L52.29,479.13 L51.29,479.10 L50.29,479.07 L49.29,479.04 L48.29,479.02 L47.29,478.99 L46.29,478.96 L45.29,478.93 L44.29,478.90 L43.29,478.87 L42.29,478.84 L41.29,478.82 L40.29,478.79 L39.29,478.76 L38.29,478.73 L37.29,478.70 L36.29,478.67 L35.29,478.64 L34.29,478.61 L33.29,478.58 L32.29,478.55 L31.29,478.52 L30.28,478.49 L29.28,478.46 L28.28,478.43 L27.28,478.40" fill="none" stroke="#9494ff" stroke-width="0.90"/>
<rect x="290.05" y="213.05" width="1.70" height="1.70" fill="#1a00dd"/>
<rect x="331.85" y="206.25" width="1.70" height="1.70" fill="#ff3c3c"/>
<rect x="349.25" y="187.65" width="1.70" height="1.70" fill="#ff3c3c"/>
<rect x="312.65" y="39.85" width="1.70" height="1.70" fill="#ff3c3c"/>
<rect x="77.05" y="415.85" width="1.70" height="1.70" fill="#ff3c3c"/>
<rect x="165.25" y="432.75" width="1.70" height="1.70" fill="#ff3c3c"/>
<rect x="260.35" y="477.85" width="1.70" height="1.70" fill="#ff3c3c"/>
<rect x="312.35" y="304.35" width="1.70" height="1.70" fill="#ff3c3c"/>
<rect x="340.35" y="449.25" width="1.70" height="1.70" fill="#ff3c3c"/>
<rect x="339.55" y="456.85" width="1.70" height="1.70" fill="#ff3c3c"/>
<rect x="44.75" y="478.05" width="1.70" height="1.70" fill="#1a00dd"/>
<text class="an" x="295.6" y="41.7">SHB</text>
<text class="an" x="286.70" y="206.00">H<tspan font-size="4.80" dx="0.2" dy="2.5">1</tspan><tspan dx="0.1" dy="-2.5"> (SHB)</tspan></text>
<text class="an" x="320.10" y="199.10">H<tspan font-size="4.80" dx="0.2" dy="2.5">2</tspan><tspan dx="0.1" dy="-2.5"> (SHB)</tspan></text>
<text class="an" x="353.9" y="189.2">LP (SNB)</text>
<text class="an" x="82.3" y="416.2">Neutral saddle</text>
<text class="an" x="161.5" y="425.3">Neutral saddle</text>
<text class="an" x="256.9" y="472.9">Neutral saddle</text>
<text class="an" x="316.8" y="304.7">SHB</text>
<text class="an" x="345.3" y="450.3">LP (SNB)</text>
<text class="an" x="344.7" y="460.3">H</text>
<text class="an" x="348.6" y="459.3" style="font-size:4.8px">'</text>
<text class="an" x="349.3" y="462.5" style="font-size:4.2px">2</text>
<text class="an" x="353.3" y="460.3">(SHB)</text>
<text class="an" x="43.90" y="470.70">H<tspan font-size="4.80" dx="0.2" dy="2.5">1</tspan><tspan dx="0.1" dy="-2.5"> (SHB)</tspan></text>
<text class="lb" transform="translate(11.2,121.35) rotate(-90)" text-anchor="middle" style="font-size:8.3px;letter-spacing:0.25px"><tspan font-style="italic">n</tspan> /pu</text>
<text class="lb" transform="translate(14.2,389.8) rotate(-90)" text-anchor="middle" style="font-size:8.3px;letter-spacing:0.25px"><tspan font-style="italic">n</tspan> /pu</text>
<text class="lb" x="205.5" y="250.3" font-style="italic">Q</text>
<text class="lb" x="212.9" y="253.6" style="font-size:5.8px">1</text>
<text class="lb" x="218.0" y="250.3" style="font-size:8.8px">/pu</text>
<text class="lb" x="201.0" y="519.0" font-style="italic">P</text>
<text class="lb" x="207.0" y="522.4" style="font-size:5.6px" font-style="italic">pv</text>
<text class="lb" x="214.7" y="519.0" style="font-size:8.8px">/pu</text>
<text class="cap" x="210.85" y="271.0" text-anchor="middle">(<tspan font-weight="bold" style="font-size:10.5px" stroke="#111" stroke-width="0.2">a</tspan>)</text>
<text class="cap" x="210.95" y="542.4" text-anchor="middle">(<tspan font-weight="bold" style="font-size:10.5px" stroke="#111" stroke-width="0.2">b</tspan>)</text>
</svg></body></html>
